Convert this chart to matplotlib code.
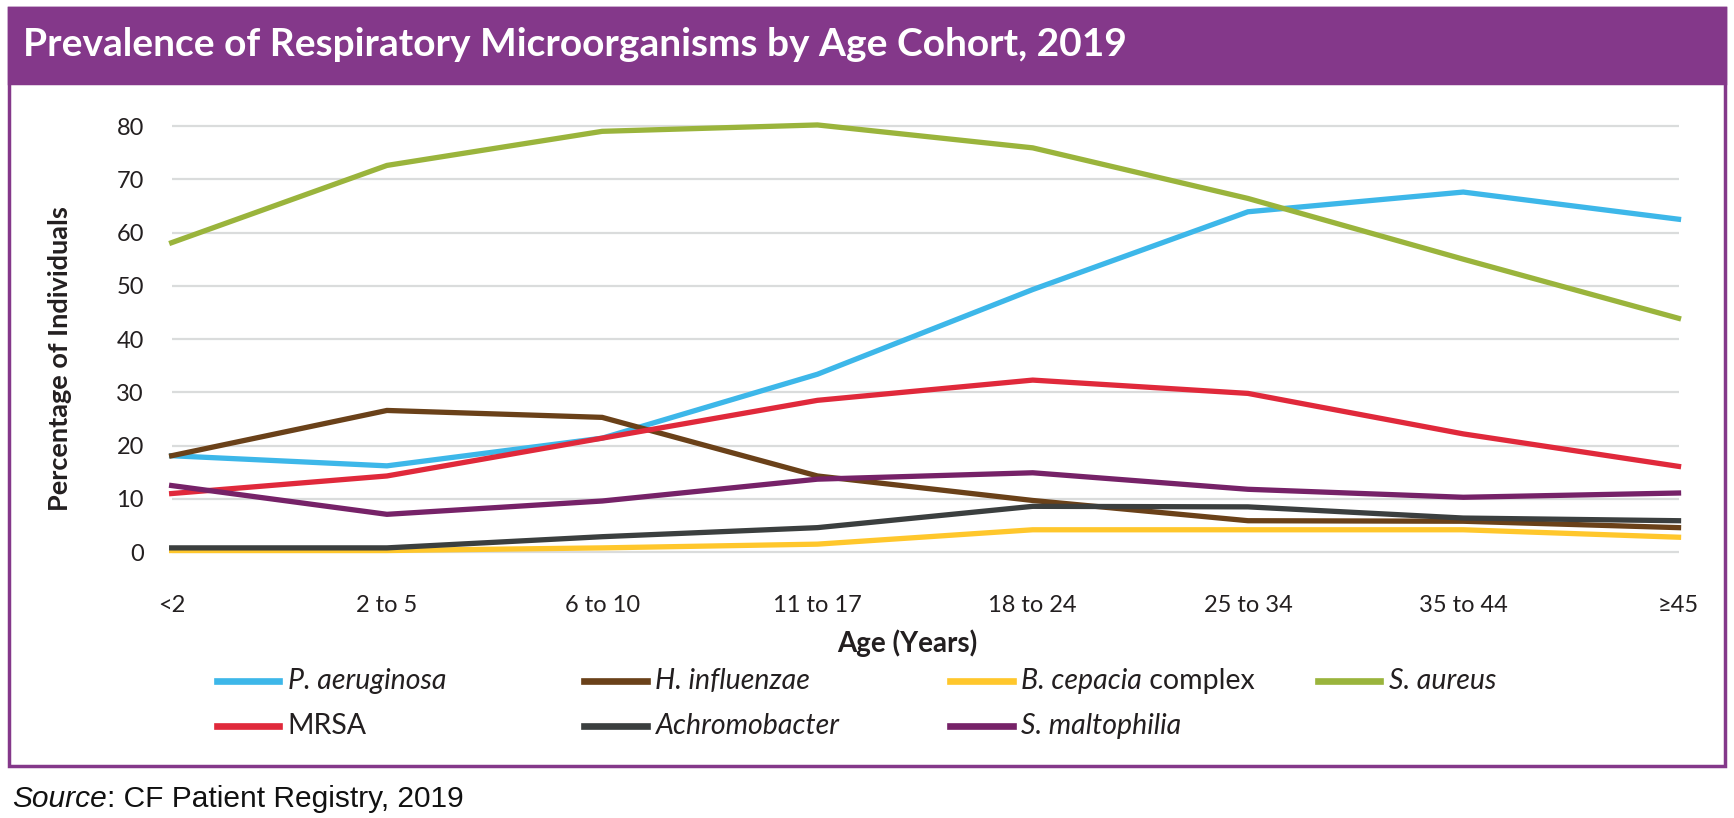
import matplotlib
matplotlib.use("Agg")
import matplotlib.pyplot as plt
from matplotlib.lines import Line2D
from matplotlib.patches import Rectangle

# Data
age_groups = ["<2", "2 to 5", "6 to 10", "11 to 17", "18 to 24", "25 to 34", "35 to 44", "\u226545"]

p_aeruginosa = [18.1, 16.2, 21.4, 33.4, 49.3, 63.9, 67.6, 62.5]
h_influenzae = [18.1, 26.6, 25.3, 14.3, 9.7, 5.9, 5.8, 4.6]
b_cepacia = [0.3, 0.3, 0.8, 1.5, 4.2, 4.2, 4.2, 2.8]
s_aureus = [58.1, 72.6, 79.0, 80.2, 75.9, 66.4, 55.0, 43.9]
mrsa = [11.0, 14.3, 21.4, 28.5, 32.3, 29.8, 22.2, 16.1]
achromobacter = [0.8, 0.8, 2.9, 4.6, 8.6, 8.5, 6.4, 5.9]
s_maltophilia = [12.5, 7.1, 9.6, 13.7, 14.9, 11.8, 10.3, 11.1]

# (italic part, plain part, values, colour) in legend order
series = [
    ("P. aeruginosa", "", p_aeruginosa, "#3DB7E9"),
    ("H. influenzae", "", h_influenzae, "#6A4119"),
    ("B. cepacia", " complex", b_cepacia, "#FFC72C"),
    ("S. aureus", "", s_aureus, "#9AB43C"),
    ("", "MRSA", mrsa, "#E0293B"),
    ("Achromobacter", "", achromobacter, "#3B3F3F"),
    ("S. maltophilia", "", s_maltophilia, "#762268"),
]

purple = "#84388A"
ink = "#231F20"
font = "Lato"

fig = plt.figure(figsize=(17.34, 8.18), dpi=100)

# frame and title bar
fig.patches.append(Rectangle((0.005, 0.063), 0.99, 0.927, transform=fig.transFigure,
                             fill=False, edgecolor=purple, linewidth=2.5, zorder=0))
fig.patches.append(Rectangle((0.005, 0.898), 0.99, 0.092, transform=fig.transFigure,
                             facecolor=purple, edgecolor=purple, linewidth=2.5, zorder=0))
fig.text(0.013, 0.945, "Prevalence of Respiratory Microorganisms by Age Cohort, 2019",
         color="white", fontsize=28, fontweight="bold", family=font, va="center", ha="left")

ax = fig.add_axes([0.099, 0.3185, 0.869, 0.5535])
x = list(range(len(age_groups)))
for ital, plain, vals, col in series:
    ax.plot(x, vals, color=col, linewidth=3.8, solid_joinstyle="miter", clip_on=False)

ax.set_xlim(0, len(age_groups) - 1)
ax.set_ylim(-1, 84)
ax.set_yticks(range(0, 81, 10))
ax.set_xticks(x)
ax.set_xticklabels(age_groups)
ax.grid(axis="y", color="#DADCDC", linewidth=1.6)
ax.set_axisbelow(True)
for s in ax.spines.values():
    s.set_visible(False)
ax.tick_params(axis="both", length=0, labelsize=17, colors=ink)
ax.tick_params(axis="y", pad=20)
ax.tick_params(axis="x", pad=27)
for lab in ax.get_xticklabels() + ax.get_yticklabels():
    lab.set_family(font)

ax.set_xlabel("Age (Years)", fontsize=20, fontweight="bold", family=font, color=ink)
ax.xaxis.set_label_coords(0.488, -0.158)
ax.set_ylabel("Percentage of Individuals", fontsize=19.5, fontweight="bold", family=font, color=ink)
ax.yaxis.set_label_coords(-0.066, 0.44)

# legend drawn by hand so the columns line up like the original
col_x = [0.125, 0.337, 0.548, 0.760]
row_y = [0.167, 0.112]
for i, (ital, plain, vals, col) in enumerate(series):
    cx = col_x[i % 4]
    cy = row_y[i // 4]
    fig.lines.append(Line2D([cx, cx + 0.036], [cy, cy], transform=fig.transFigure,
                            color=col, linewidth=4.8))
    tx = cx + 0.041
    if ital:
        t = fig.text(tx, cy, ital, fontsize=20.5, style="italic", family=font,
                     va="center", ha="left", color=ink)
        if plain:
            ax.annotate(plain, xy=(1, 0), xycoords=t, va="bottom", ha="left",
                        fontsize=20.5, family=font, color=ink, annotation_clip=False)
    else:
        fig.text(tx, cy, plain, fontsize=20.5, family=font, va="center", ha="left", color=ink)

src = fig.text(0.007, 0.023, "Source", fontsize=21.5, style="italic",
               family="Liberation Sans", va="center", ha="left", color="#111111")
ax.annotate(": CF Patient Registry, 2019", xy=(1, 0), xycoords=src, va="bottom", ha="left",
            fontsize=21.5, family="Liberation Sans", color="#111111", annotation_clip=False)

fig.savefig("out.png", dpi=100)
